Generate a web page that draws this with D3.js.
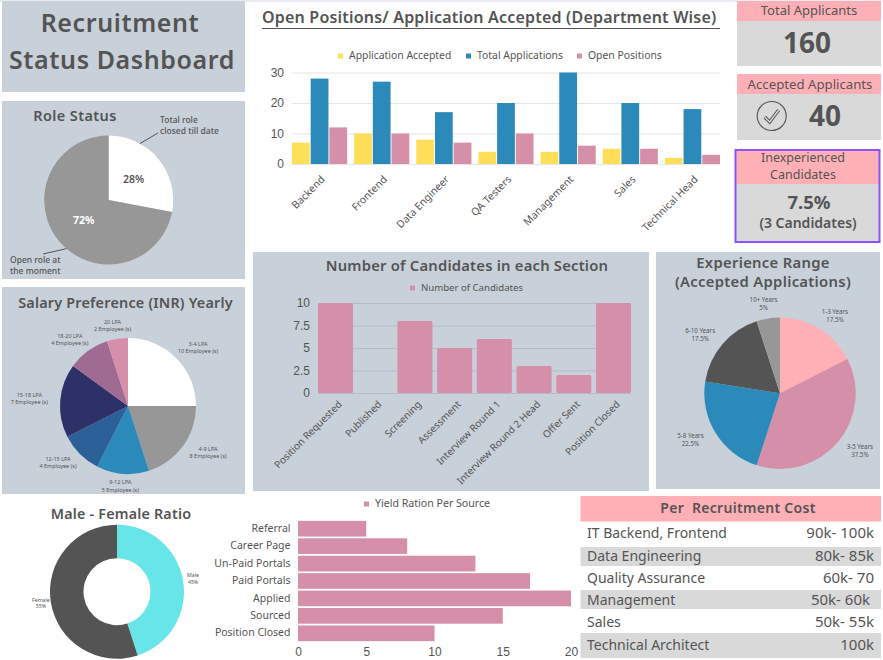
<!DOCTYPE html>
<html>
<head>
<meta charset="utf-8">
<script src="https://cdn.jsdelivr.net/npm/d3@7/dist/d3.min.js"></script>
<style>
  html, body { margin: 0; padding: 0; background: #fff; }
  svg { display: block; font-family: "Noto Sans", sans-serif; }
  text { fill: #545454; }
</style>
</head>
<body>
<svg id="board" width="883" height="660"></svg>
<script>
// Department chart
const departments = ["Backend", "Frontend", "Data Engineer", "QA Testers", "Management", "Sales", "Technical Head"];
const applicationAccepted = [7, 10, 8, 4, 4, 5, 2];
const totalApplications = [28, 27, 17, 20, 30, 20, 18];
const openPositions = [12, 10, 7, 10, 6, 5, 3];
const departmentSeriesNames = ["Application Accepted", "Total Applications", "Open Positions"];

// Role status pie
const roleNames = ["Total role closed till date", "Open role at the moment"];
const roleShares = [28, 72];

// Salary preference pie
const salaryBands = ["3-4 LPA", "4-9 LPA", "9-12 LPA", "12-15 LPA", "15-18 LPA", "18-20 LPA", "20 LPA"];
const salaryEmployees = [10, 8, 5, 4, 7, 4, 2];

// Pipeline sections
const sections = ["Position Requested", "Published", "Screening", "Assessment", "Interview Round 1", "Interview Round 2 Head", "Offer Sent", "Position Closed"];
const sectionCandidates = [10, 0, 8, 5, 6, 3, 2, 10];
const sectionTicks = [0, 2.5, 5, 7.5, 10];

// Experience pie
const experienceRanges = ["1-3 Years", "3-5 Years", "5-8 Years", "6-10 Years", "10+ Years"];
const experienceShares = [17.5, 37.5, 22.5, 17.5, 5];

// Gender donut
const genders = ["Male", "Female"];
const genderShares = [45, 55];

// Yield per source
const sources = ["Referral", "Career Page", "Un-Paid Portals", "Paid Portals", "Applied", "Sourced", "Position Closed"];
const sourceYield = [5, 8, 13, 17, 20, 15, 10];
const yieldTicks = [0, 5, 10, 15, 20];

// Cost table
const costRoles = ["IT Backend, Frontend", "Data Engineering", "Quality Assurance", "Management", "Sales", "Technical Architect"];
const costRanges = ["90k- 100k", "80k- 85k", "60k- 70", "50k- 60k", "50k- 55k", "100k"];

const INK = "#545454", PANEL = "#c8d0da", PINK = "#d68fa9", BLUE = "#2b8aba", YELLOW = "#ffde59",
      SALMON = "#ffb0b6", LIGHT = "#d9d9d9", GREY = "#979797", PURPLE = "#8c52ff";

const svg = d3.select("#board");

function panel(x0, y0, x1, y1, fill) {
  svg.append("rect").attr("x", x0).attr("y", y0).attr("width", x1 - x0).attr("height", y1 - y0).attr("fill", fill);
}
function label(str, x, y, size, opts = {}) {
  const t = svg.append("text").attr("x", x).attr("y", y - 0.8).attr("font-size", size)
    .attr("dominant-baseline", "central").attr("text-anchor", opts.anchor || "middle").text(str);
  if (opts.bold) t.attr("font-weight", opts.bold === true ? 700 : opts.bold);
  if (opts.spacing) t.attr("letter-spacing", opts.spacing);
  if (opts.fill) t.style("fill", opts.fill);
  return t;
}
function legendKey(x, y, color, str, size) {
  svg.append("rect").attr("x", x).attr("y", y - 2.5).attr("width", 5).attr("height", 5).attr("fill", color);
  label(str, x + 11, y, size || 10.4, { anchor: "start" });
}
// Pie whose outside labels sit on an ellipse around the centre
function pie(cx, cy, outer, inner, values, colors, rx, ry, lines, size) {
  const arcs = d3.pie().sort(null)(values);
  const arc = d3.arc().innerRadius(inner).outerRadius(outer);
  const g = svg.append("g").attr("transform", `translate(${cx},${cy})`);
  g.selectAll("path").data(arcs).join("path").attr("d", arc).attr("fill", (d, i) => colors[i]);
  if (lines) arcs.forEach((d, i) => {
    const a = (d.startAngle + d.endAngle) / 2;
    const x = cx + rx * Math.sin(a), y = cy - ry * Math.cos(a);
    lines[i].forEach((s, j) => label(s, x, y + (j - 0.5) * size * 1.3, size));
  });
  return arc;
}

/* ---------- panels ---------- */
panel(0, 0, 883, 2, "#e8ebf0");
panel(2, 1, 245, 92, PANEL);
panel(2, 101, 245, 279, PANEL);
panel(2, 287, 245, 494, PANEL);
panel(253, 252, 649, 491, PANEL);
panel(656, 252, 880, 489, PANEL);

/* ---------- heading ---------- */
label("Recruitment", 120, 23, 25, { bold: 600, spacing: 0.6 });
label("Status Dashboard", 122, 60, 25, { bold: 600, spacing: 0.6 });

/* ---------- department grouped bars ---------- */
label("Open Positions/ Application Accepted (Department Wise)", 262, 18, 16, { bold: 600, anchor: "start", spacing: 0.2 });
svg.append("line").attr("x1", 262).attr("x2", 720).attr("y1", 28.5).attr("y2", 28.5).attr("stroke", INK);

const deptColors = [YELLOW, BLUE, PINK];
[338, 466, 577].forEach((x, i) => legendKey(x, 56, deptColors[i], departmentSeriesNames[i]));

const deptX = d3.scaleBand().domain(departments).range([292, 720]).paddingInner(7 / 62);
const deptInner = d3.scaleBand().domain(d3.range(3)).range([0, deptX.bandwidth()]).paddingInner(0.05);
const deptY = d3.scaleLinear().domain([0, 30]).range([164, 72.5]);

const deptAxis = svg.append("g").attr("transform", "translate(292,0)")
  .call(d3.axisLeft(deptY).tickValues([0, 10, 20, 30]).tickSize(-428).tickPadding(8));
deptAxis.select(".domain").remove();
deptAxis.selectAll("line").attr("stroke", "#e6e6e6");
deptAxis.selectAll("text").attr("font-size", 12).attr("font-family", "inherit");

[applicationAccepted, totalApplications, openPositions].forEach((series, s) => {
  svg.append("g").selectAll("rect").data(series).join("rect")
    .attr("x", (d, i) => deptX(departments[i]) + deptInner(s))
    .attr("y", d => deptY(d))
    .attr("width", deptInner.bandwidth())
    .attr("height", d => deptY(0) - deptY(d))
    .attr("fill", deptColors[s]);
});
departments.forEach(d => {
  svg.append("text").attr("text-anchor", "end").attr("font-size", 10.4)
    .attr("transform", `translate(${deptX(d) + deptX.bandwidth() / 2 + 6},180) rotate(-45)`).text(d);
});

/* ---------- role status ---------- */
label("Role Status", 75, 116, 14.5, { bold: 600, spacing: 0.4 });
const roleCx = 108.7, roleCy = 200, roleR = 64.5;
const roleArc = pie(roleCx, roleCy, roleR, 0, roleShares, ["#ffffff", GREY]);
const roleArcs = d3.pie().sort(null)(roleShares);
const rc0 = roleArc.centroid(roleArcs[0]), rc1 = roleArc.centroid(roleArcs[1]);
label(roleShares[0] + "%", roleCx + rc0[0], roleCy + rc0[1], 10.5, { bold: 600 });
label(roleShares[1] + "%", roleCx + rc1[0], roleCy + rc1[1], 10.5, { bold: 700, fill: "#fff" });
// Leader lines from the rim out to the two captions
const rim0 = d3.pointRadial(29 * Math.PI / 180, roleR), rim1 = d3.pointRadial(221 * Math.PI / 180, roleR);
svg.append("line").attr("x1", roleCx + rim0[0]).attr("y1", roleCy + rim0[1]).attr("x2", 158).attr("y2", 133).attr("stroke", INK);
svg.append("line").attr("x1", roleCx + rim1[0]).attr("y1", roleCy + rim1[1]).attr("x2", 43).attr("y2", 254).attr("stroke", INK);
label("Total role", 160, 120, 8.5, { anchor: "start", bold: 500 });
label("closed till date", 160, 131, 8.5, { anchor: "start", bold: 500 });
label("Open role at", 10, 260, 8.5, { anchor: "start", bold: 500 });
label("the moment", 10, 271, 8.5, { anchor: "start", bold: 500 });

/* ---------- salary preference ---------- */
label("Salary Preference (INR) Yearly", 125.5, 303, 14.4, { bold: 600, spacing: 0.2 });
pie(128, 406, 68, 0, salaryEmployees,
  ["#ffffff", GREY, BLUE, "#2b6098", "#2d3168", "#a06b93", PINK], 99, 81,
  salaryBands.map((b, i) => [b, salaryEmployees[i] + " Employee (s)"]), 5.5);

/* ---------- candidates per section ---------- */
label("Number of Candidates in each Section", 467, 266, 14.8, { bold: 600, spacing: 0.2 });
legendKey(410, 288, PINK, "Number of Candidates", 9.6);

const secX = d3.scaleBand().domain(sections).range([318, 631]).paddingInner(0.118);
const secY = d3.scaleLinear().domain([0, 10]).range([393, 303]);
const secAxis = svg.append("g").attr("transform", "translate(318,0)")
  .call(d3.axisLeft(secY).tickValues(sectionTicks).tickFormat(d => d).tickSize(-313).tickPadding(8));
secAxis.select(".domain").remove();
secAxis.selectAll("line").attr("stroke", "#b4bcc8");
secAxis.selectAll("text").attr("font-size", 12).attr("font-family", "inherit");
svg.append("g").selectAll("rect").data(sectionCandidates).join("rect")
  .attr("x", (d, i) => secX(sections[i]))
  .attr("y", d => secY(d))
  .attr("width", secX.bandwidth())
  .attr("height", d => secY(0) - secY(d))
  .attr("rx", 1.5)
  .attr("fill", PINK);
sections.forEach(d => {
  svg.append("text").attr("text-anchor", "end").attr("font-size", 10)
    .attr("transform", `translate(${secX(d) + secX.bandwidth() / 2 + 7},405) rotate(-45)`).text(d);
});

/* ---------- experience range ---------- */
label("Experience Range", 763, 263, 14.8, { bold: 600, spacing: 0.3 });
label("(Accepted Applications)", 763, 282, 14.8, { bold: 600, spacing: 0.3 });
pie(780, 393.3, 75.7, 0, experienceShares, [SALMON, PINK, BLUE, INK, GREY], 105, 90,
  experienceRanges.map((r, i) => [r, experienceShares[i] + "%"]), 6.2);

/* ---------- gender donut ---------- */
label("Male - Female Ratio", 121, 514, 14.3, { bold: 600, spacing: 0.2 });
pie(117, 591.7, 67, 33.5, genderShares, ["#68e5e9", INK], 77, 78,
  genders.map((g, i) => [g, genderShares[i] + "%"]), 5.2);

/* ---------- yield per source ---------- */
legendKey(364, 504, PINK, "Yield Ration Per Source", 10.6);
const yX = d3.scaleLinear().domain([0, 20]).range([298, 571]);
const yY = d3.scaleBand().domain(sources).range([520, 642]).paddingInner(0.1).paddingOuter(0.05);
svg.append("g").selectAll("rect").data(sourceYield).join("rect")
  .attr("x", yX(0))
  .attr("y", (d, i) => yY(sources[i]))
  .attr("width", d => yX(d) - yX(0))
  .attr("height", yY.bandwidth())
  .attr("fill", PINK);
sources.forEach(s => label(s, 290.5, yY(s) + yY.bandwidth() / 2, 10.5, { anchor: "end" }));
const yAxis = svg.append("g").attr("transform", "translate(0,644)")
  .call(d3.axisBottom(yX).tickValues(yieldTicks).tickSize(0).tickPadding(3));
yAxis.select(".domain").remove();
yAxis.selectAll("text").attr("font-size", 12).attr("font-family", "inherit");

/* ---------- cost table ---------- */
panel(580.5, 496, 881, 521.5, SALMON);
label("Per  Recruitment Cost", 738, 508, 14, { bold: 600, spacing: 0.3 }).style("white-space", "pre");
const rowEdges = [522, 547, 566, 590, 609, 633, 658];
const rowText = [533, 556, 578, 600, 622, 645];
costRoles.forEach((r, i) => {
  if (i % 2) panel(580.5, rowEdges[i], 881, rowEdges[i + 1], LIGHT);
  label(r, 587, rowText[i], 14, { anchor: "start" });
  label(costRanges[i], i === 3 ? 870 : 874, rowText[i], 15, { anchor: "end" });
});

/* ---------- KPI cards ---------- */
panel(737, 1, 881, 66, LIGHT);
panel(737, 1, 881, 21, SALMON);
label("Total Applicants", 809, 10.5, 13);
label("160", 807, 43, 28, { bold: 700 });

panel(737, 74, 881, 140, LIGHT);
panel(737, 74, 881, 94, SALMON);
label("Accepted Applicants", 810, 85, 13.2);
label("40", 825, 116, 28, { bold: 700 });
svg.append("circle").attr("cx", 771.7).attr("cy", 116).attr("r", 14.5).attr("fill", "none").attr("stroke", INK).attr("stroke-width", 1.1);
const tick = "M-7,1 L-2,6 L7,-6";
svg.append("path").attr("transform", "translate(771.7,116)").attr("d", tick).attr("fill", "none").attr("stroke", INK).attr("stroke-width", 3.4);
svg.append("path").attr("transform", "translate(771.7,116)").attr("d", tick).attr("fill", "none").attr("stroke", LIGHT).attr("stroke-width", 1.4);

panel(735.5, 150, 879.5, 242, LIGHT);
panel(735.5, 150, 879.5, 184, SALMON);
svg.append("rect").attr("x", 735.5).attr("y", 150).attr("width", 144).attr("height", 92)
  .attr("fill", "none").attr("stroke", PURPLE).attr("stroke-width", 2);
label("Inexperienced", 803, 158, 12.5);
label("Candidates", 803, 175, 12.5);
label("7.5%", 809, 202, 18.5, { bold: 700 });
label("(3 Candidates)", 808, 223, 14, { bold: 600 });
</script>
</body>
</html>
